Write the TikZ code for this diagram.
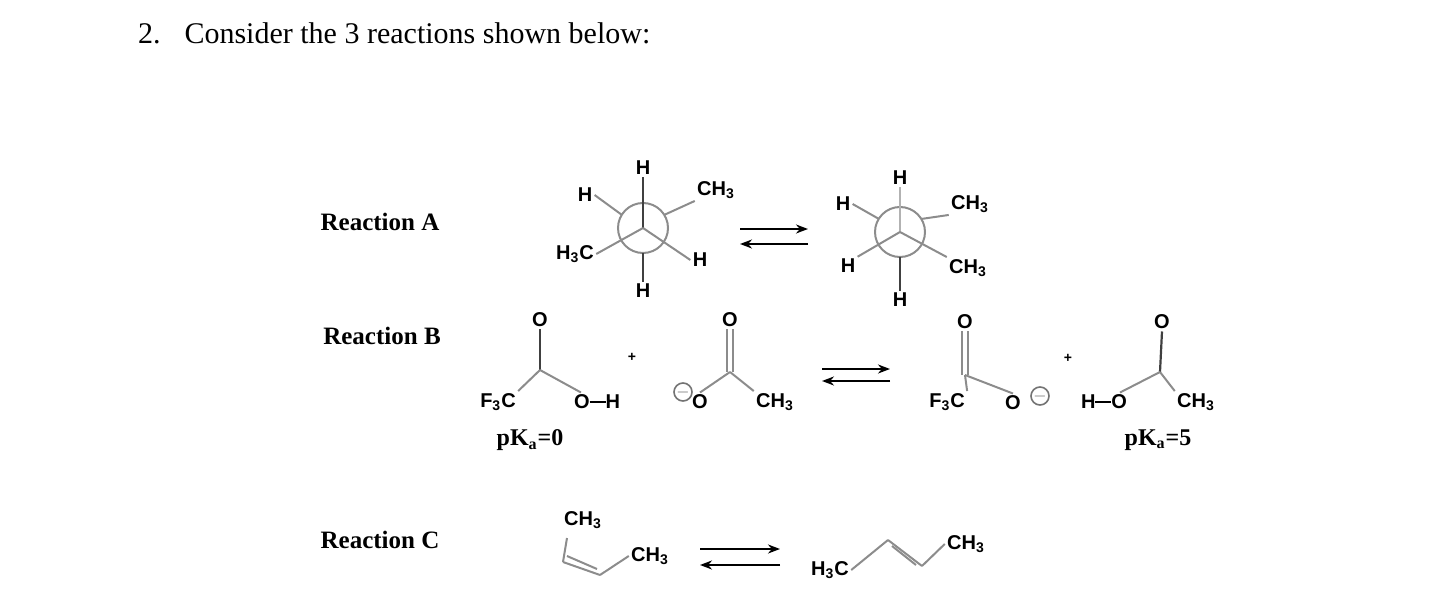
\documentclass[tikz,border=0pt]{standalone}
\usepackage{fontspec}
\setmainfont{Liberation Serif}
\setsansfont{Liberation Sans}
\usetikzlibrary{arrows.meta,calc}
\newcommand{\sbt}[1]{\textsubscript{#1}}
\begin{document}
\begin{tikzpicture}[x=0.5pt,y=-0.5pt,
  atm/.style={font=\sffamily\bfseries\fontsize{10}{10}\selectfont,inner sep=1pt},
  rlab/.style={font=\bfseries\fontsize{12.5}{12.5}\selectfont},
  bond/.style={line width=1.1pt,black!75},
  gbond/.style={line width=1pt,black!45},
  eq/.style={line width=1.2pt,-{Stealth[length=6pt]}},
  minus/.style={draw,circle,line width=0.8pt,black!55,inner sep=0pt,minimum size=9pt,font=\sffamily\bfseries\fontsize{8}{8}\selectfont}]
\useasboundingbox (0,0) rectangle (1442,594);
\node[anchor=west,font=\fontsize{15}{15}\selectfont] (title) at (131,33) {2.\hspace{0.8em}Consider the 3 reactions shown below:};
\node[rlab] (ra) at (380,222) {Reaction A};
\node[rlab] (rb) at (382,336) {Reaction B};
\node[rlab] (rc) at (380,540) {Reaction C};
% Newman 1
\coordinate (c1) at (643,228);
\draw[gbond] (c1) circle (25);
\node[atm] (a1t) at (643,168) {H};
\node[atm] (a1ul) at (585,195) {H};
\node[atm] (a1ur) at (716,190) {CH\sbt{3}};
\node[atm] (a1ll) at (575,254) {H\sbt{3}C};
\node[atm] (a1lr) at (700,260) {H};
\node[atm] (a1b) at (643,291) {H};
\draw[bond] (c1) -- (a1t.south);
\draw[gbond] (c1) -- (a1ll.east);
\draw[gbond] (c1) -- (a1lr.west);
\draw[gbond] ($(c1)+(-21,-13)$) -- (a1ul.east);
\draw[gbond] ($(c1)+(21,-13)$) -- (a1ur.south west);
\draw[bond] ($(c1)+(0,25)$) -- (a1b.north);
\draw[eq] (740,229) -- (808,229);
\draw[eq] (808,244) -- (740,244);
% Newman 2
\coordinate (c2) at (900,232);
\draw[gbond] (c2) circle (25);
\node[atm] (a2t) at (900,178) {H};
\node[atm] (a2ul) at (843,204) {H};
\node[atm] (a2ur) at (970,204) {CH\sbt{3}};
\node[atm] (a2ll) at (848,266) {H};
\node[atm] (a2lr) at (968,268) {CH\sbt{3}};
\node[atm] (a2b) at (900,300) {H};
\draw[gbond,black!30] (c2) -- (a2t.south);
\draw[gbond] (c2) -- (a2ll.north east);
\draw[gbond] (c2) -- (a2lr.north west);
\draw[gbond] ($(c2)+(-21,-13)$) -- (a2ul.east);
\draw[gbond] ($(c2)+(21,-13)$) -- (a2ur.south west);
\draw[bond] ($(c2)+(0,25)$) -- (a2b.north);
% Reaction B
\coordinate (cb1) at (540,370);
\node[atm] (o1) at (540,320) {O};
\node[atm] (f1) at (498,402) {F\sbt{3}C};
\node[atm] (oh1) at (597,402) {O\rule[0.3em]{0.8em}{1pt}H};
\draw[bond] (o1.south) -- (cb1);
\draw[gbond] (cb1) -- (f1.north east);
\draw[gbond] (cb1) -- ([xshift=-8pt]oh1.north);
\node[rlab,font=\bfseries\fontsize{12}{12}\selectfont] (pk1) at (530,440) {pK\sbt{a}=0};
\node[atm,font=\sffamily\bfseries\fontsize{7}{7}\selectfont] (p1) at (632,357) {+};
\coordinate (cb2) at (730,372);
\node[atm] (o2) at (730,320) {O};
\node[atm] (om2) at (700,402) {O};
\node[atm] (me2) at (775,402) {CH\sbt{3}};
\node[minus] (n2) at (683,392) {$-$};
\draw[gbond] ([xshift=-1.5pt]o2.south) -- ([xshift=-1.5pt]cb2);
\draw[gbond] ([xshift=1.5pt]o2.south) -- ([xshift=1.5pt]cb2);
\draw[gbond] (cb2) -- (om2.north);
\draw[gbond] (cb2) -- (me2.north west);
\draw[eq] (822,369) -- (890,369);
\draw[eq] (890,381) -- (822,381);
\coordinate (cb3) at (965,375);
\node[atm] (o3) at (965,322) {O};
\node[atm] (f3) at (947,402) {F\sbt{3}C};
\node[atm] (om3) at (1013,403) {O};
\node[minus] (n3) at (1040,396) {$-$};
\draw[gbond] ([xshift=-1.5pt]o3.south) -- ([xshift=-1.5pt]cb3);
\draw[gbond] ([xshift=1.5pt]o3.south) -- ([xshift=1.5pt]cb3);
\draw[gbond] (cb3) -- (f3.north east);
\draw[gbond] (cb3) -- (om3.north);
\node[atm,font=\sffamily\bfseries\fontsize{7}{7}\selectfont] (p2) at (1068,358) {+};
\coordinate (cb4) at (1160,372);
\node[atm] (o4) at (1162,322) {O};
\node[atm] (ho4) at (1104,402) {H\rule[0.3em]{0.8em}{1pt}O};
\node[atm] (me4) at (1196,402) {CH\sbt{3}};
\draw[bond] (o4.south) -- (cb4);
\draw[gbond] (cb4) -- ([xshift=8pt]ho4.north);
\draw[gbond] (cb4) -- (me4.north west);
\node[rlab,font=\bfseries\fontsize{12}{12}\selectfont] (pk2) at (1158,440) {pK\sbt{a}=5};
% Reaction C
\node[atm] (m1) at (583,520) {CH\sbt{3}};
\node[atm] (m2) at (650,556) {CH\sbt{3}};
\coordinate (z1) at (567,538);
\coordinate (z2) at (563,562);
\coordinate (z3) at (600,575);
\draw[gbond] (z1) -- (z2);
\draw[gbond] (z2) -- (z3);
\draw[gbond] ($(z2)+(4,-6)$) -- ($(z3)+(-3,-6)$);
\draw[gbond] (z3) -- (m2.west);
\draw[eq] (700,549) -- (780,549);
\draw[eq] (780,565) -- (700,565);
\node[atm] (m3) at (830,570) {H\sbt{3}C};
\node[atm] (m4) at (966,544) {CH\sbt{3}};
\coordinate (y1) at (888,540);
\coordinate (y2) at (922,566);
\draw[gbond] (m3.east) -- (y1);
\draw[gbond] (y1) -- (y2);
\draw[gbond] ($(y1)+(4,6)$) -- ($(y2)+(-6,-1)$);
\draw[gbond] (y2) -- (m4.west);
\end{tikzpicture}
\end{document}
